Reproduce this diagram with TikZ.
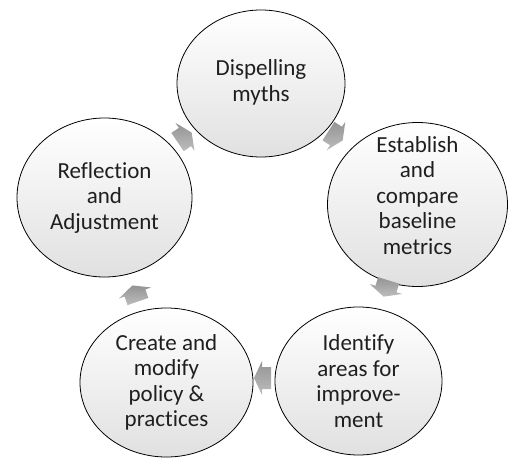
\documentclass[tikz,border=0pt]{standalone}
\usepackage{fontspec}
\setmainfont{Carlito}[Ligatures=CommonOff]
\usetikzlibrary{shapes.geometric}
\tikzset{
  stage/.style={ellipse, draw=black, line width=0.8pt, top color=white, bottom color=black!12, inner sep=0pt},
  steptext/.style={align=center, text=black!88, font=\fontsize{23}{25.5}\selectfont, inner sep=0pt},
  cycshade/.style={top color=black!42, bottom color=black!26, draw=none},
  pics/cycarrow/.style={code={
    \path[cycshade] (-9,-11) -- (0,-11) -- (0,-17) -- (8,0) -- (0,17) -- (0,11) -- (-9,11) -- cycle;
  }}
}
\begin{document}
\begin{tikzpicture}[x=1pt,y=1pt]
\useasboundingbox (0,0) rectangle (522,-471);
% stages
\node[stage, minimum width=168pt, minimum height=147pt] (s1) at (261,-83.5) {};
\node[stage, minimum width=180pt, minimum height=164pt] (s2) at (417.5,-204.5) {};
\node[stage, minimum width=167pt, minimum height=148pt] (s3) at (358.5,-381) {};
\node[stage, minimum width=173pt, minimum height=149pt] (s4) at (166.5,-382.5) {};
\node[stage, minimum width=175pt, minimum height=159pt] (s5) at (104.5,-197.5) {};
% texts
\node[steptext] (t1) at ([yshift=1pt]s1.center) {Dispelling\\myths};
\node[steptext] (t2) at ([yshift=9pt]s2.center) {Establish\\and\\compare\\baseline\\metrics};
\node[steptext] (t3) at (s3.center) {Identify\\areas for\\improve-\\ment};
\node[steptext] (t4) at (s4.center) {Create and\\modify\\policy \&\\practices};
\node[steptext] (t5) at (s5.center) {Reflection\\and\\Adjustment};
% arrows
\pic[rotate=-33] (a1) at (336,-136) {cycarrow};
\pic[rotate=-107] (a2) at (386,-289) {cycarrow};
\pic[rotate=180] (a3) at (262,-378) {cycarrow};
\pic[rotate=109] (a4) at (135,-293) {cycarrow};
\pic[rotate=34] (a5) at (185,-137) {cycarrow};
\end{tikzpicture}
\end{document}
